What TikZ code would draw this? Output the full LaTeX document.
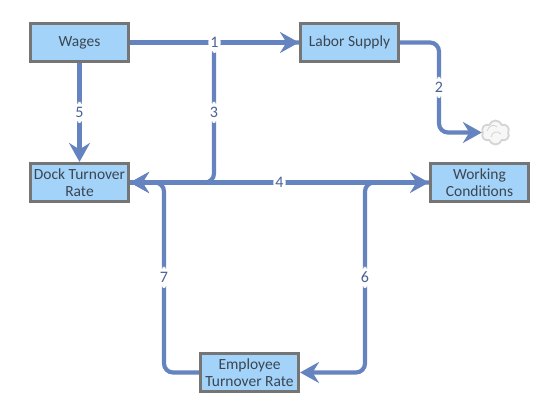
\documentclass[tikz,border=0pt]{standalone}
\usepackage{fontspec}
\setmainfont{Carlito}
\usetikzlibrary{arrows.meta,shapes.symbols}
\definecolor{boxfill}{HTML}{A3D3F9}
\definecolor{boxline}{HTML}{757575}
\definecolor{conncol}{HTML}{6583BF}
\definecolor{labcol}{HTML}{4A6098}
\definecolor{txtcol}{HTML}{3B4652}
\definecolor{cloudline}{HTML}{D4D4D4}
\tikzset{
  x=1pt,y=-1pt,
  topic/.style={draw=boxline,fill=boxfill,line width=2.6pt,minimum width=98.5pt,minimum height=38.5pt,
    inner sep=0pt,align=center,text=txtcol,font=\fontsize{15.5}{17}\selectfont},
  conn/.style={draw=conncol,line width=4.2pt,rounded corners=9pt},
  tipped/.style={conn,-{Stealth[length=19pt,width=21pt,inset=6.5pt]}},
  lab/.style={fill=white,text=labcol,inner xsep=2pt,inner ysep=0pt,minimum height=21pt,font=\fontsize{16}{18}\selectfont},
  puff/.style={draw=cloudline,line width=1.8pt,fill=white!97!black,cloud,cloud puffs=6,cloud puff arc=140,
    aspect=1.05,inner sep=0pt,minimum width=28pt,minimum height=24pt},
  wisp/.style={draw=cloudline,line width=.8pt}
}
\begin{document}
\begin{tikzpicture}
\useasboundingbox (0,0) rectangle (558,414);
\node[topic] (wages) at (79.5,42.5) {Wages};
\node[topic] (labor) at (349.5,42.5) {Labor Supply};
\node[topic] (dock) at (79.5,182.5) {Dock Turnover\\Rate};
\node[topic] (work) at (479.5,182.5) {Working\\Conditions};
\node[topic] (emp) at (249.5,372.5) {Employee\\Turnover Rate};
\node[puff] (blob) at (495.5,132.5) {};
\draw[wisp] (487,131) .. controls (489,125) and (494,124) .. (497,127);
\draw[wisp] (491,137) .. controls (492,132) and (497,130) .. (501,134);
\coordinate (a3) at (214,42.5);
\coordinate (b3) at (214,182.5);
\coordinate (a2) at (439,42.5);
\coordinate (b2) at (439,132.5);
\coordinate (a6) at (365,182.5);
\coordinate (b6) at (365,372.5);
\coordinate (a7) at (164,372.5);
\coordinate (b7) at (164,182.5);
\draw[tipped] (labor.west) -- (a3) -- node[lab] (l3) {3} (b3) -- (dock.east);
\draw[tipped] (emp.west) -- (a7) -- node[lab] (l7) {7} (b7) -- (dock.east);
\draw[tipped] (dock.east) -- node[lab] (l4) {4} (work.west);
\draw[tipped] (work.west) -- (a6) -- node[lab] (l6) {6} (b6) -- (emp.east);
\draw[tipped] (wages.east) -- node[lab] (l1) {1} (labor.west);
\draw[tipped] (wages.south) -- node[lab] (l5) {5} (dock.north);
\draw[tipped] (labor.east) -- (a2) -- node[lab] (l2) {2} (b2) -- (blob.west);
\end{tikzpicture}
\end{document}
